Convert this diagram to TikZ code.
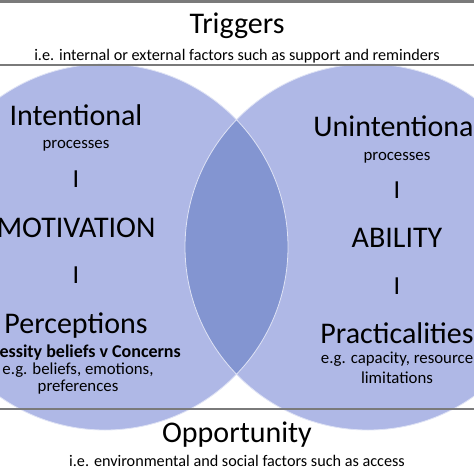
\documentclass[tikz,border=0pt]{standalone}
\usepackage{fontspec}
\setmainfont{Carlito}
\definecolor{circfill}{HTML}{AFB8E6}
\definecolor{lensfill}{HTML}{8395D1}
\definecolor{rulegray}{HTML}{7A7A7A}
\begin{document}
\begin{tikzpicture}[x=1pt,y=-1pt,
  txt/.style={inner sep=0pt, anchor=base, text=black},
  big/.style={txt, font=\fontsize{30}{36}\selectfont},
  small/.style={txt, font=\fontsize{16.8}{20}\selectfont},
  sub/.style={txt, font=\fontsize{16.2}{19}\selectfont},
  sep/.style={txt, font=\fontsize{26}{30}\selectfont},
  boldtxt/.style={txt, font=\fontsize{18}{21}\selectfont\bfseries},
  rule/.style={draw=rulegray, line width=1.2pt}]
\useasboundingbox (0,0) rectangle (474,474);
\clip (0,0) rectangle (474,474);
\fill[white] (0,0) rectangle (474,474);
% circles
\coordinate (lc) at (105,247);
\coordinate (rc) at (368,247);
\fill[circfill] (lc) circle (183pt);
\fill[circfill] (rc) circle (183pt);
\begin{scope}
  \clip (lc) circle (183pt);
  \fill[lensfill] (rc) circle (183pt);
\end{scope}
\draw[white!60!circfill, line width=0.8pt] (lc) circle (183pt);
\draw[white!60!circfill, line width=0.8pt] (rc) circle (183pt);
% rules
\fill[rulegray] (0,0) rectangle (474,2.5);
\coordinate (t1) at (0,65); \coordinate (t2) at (474,65);
\coordinate (b1) at (0,409); \coordinate (b2) at (474,409);
\draw[rule] (t1) -- (t2);
\draw[rule] (b1) -- (b2);
% top text
\node[big] (trig) at (237,33) {Triggers};
\node[sub] (trigsub) at (237,60) {i.e. internal or external factors such as support and reminders};
% left column
\node[big] (intent) at (76,125) {Intentional};
\node[small] (lproc) at (76,148) {processes};
\node[sep] (lsep1) at (76,187) {I};
\node[big] (motiv) at (76,237) {MOTIVATION};
\node[sep] (lsep2) at (76,283) {I};
\node[big] (percep) at (76,333) {Perceptions};
\node[boldtxt] (necc) at (76,357) {Necessity beliefs v Concerns};
\node[small] (eg1) at (78,374) {e.g. beliefs, emotions,};
\node[small] (pref) at (78,391) {preferences};
% right column
\node[big] (unint) at (397,136) {Unintentional};
\node[small] (rproc) at (397,160) {processes};
\node[sep] (rsep1) at (397,198) {I};
\node[big] (abil) at (397,247) {ABILITY};
\node[sep] (rsep2) at (397,294) {I};
\node[big] (pract) at (397,343) {Practicalities};
\node[small] (eg2) at (397,363) {e.g. capacity, resource};
\node[small] (limit) at (397,383) {limitations};
% bottom text
\node[big] (opp) at (237,442) {Opportunity};
\node[sub] (oppsub) at (237,466) {i.e. environmental and social factors such as access};
\end{tikzpicture}
\end{document}
